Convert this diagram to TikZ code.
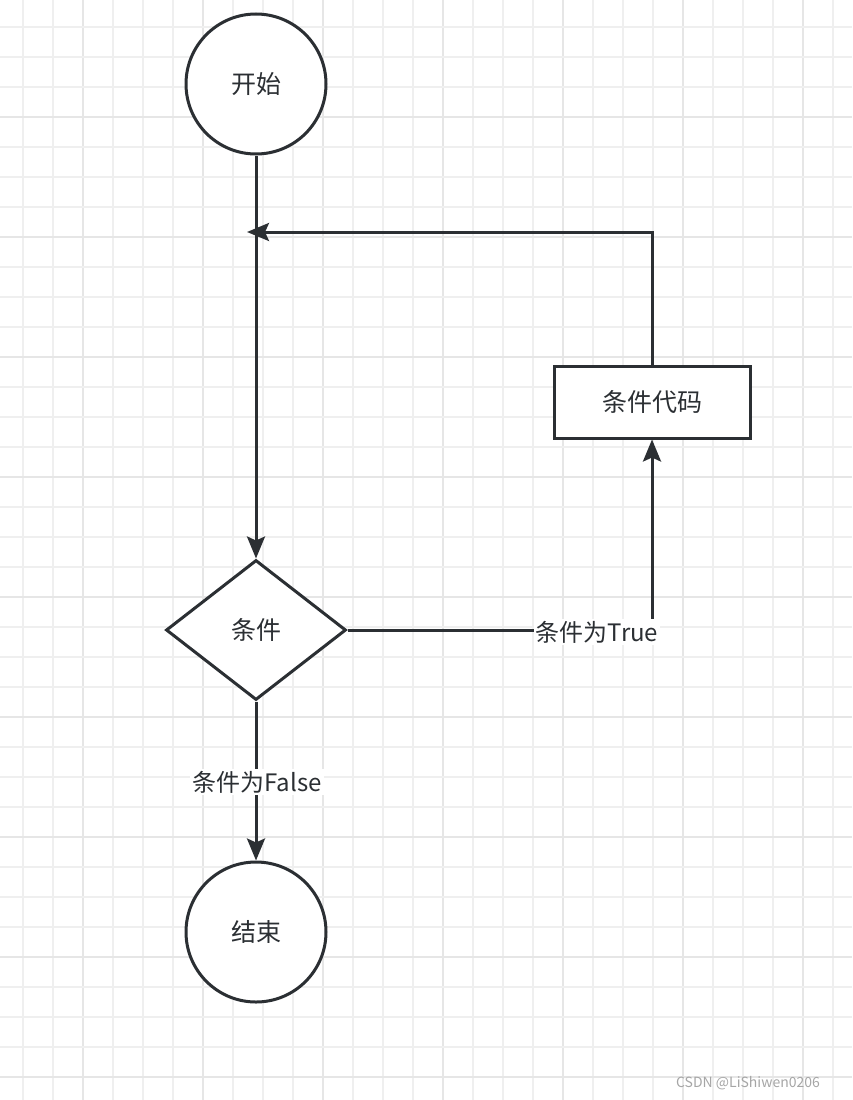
\documentclass[tikz,border=0pt]{standalone}
\usepackage{fontspec}
\setmainfont{Noto Sans CJK SC}
\usetikzlibrary{shapes.geometric,arrows.meta}
\definecolor{ink}{HTML}{2B2F33}
\definecolor{gridc}{HTML}{EFEFEF}
\definecolor{gridd}{HTML}{E6E6E6}
\tikzset{
  box/.style={draw=ink,line width=3pt,fill=white,font=\fontsize{25}{28}\selectfont,text=ink},
  flow/.style={draw=ink,line width=3pt,-{Stealth[length=22pt,width=18pt,inset=4pt]}},
  plain/.style={draw=ink,line width=3pt},
  lbl/.style={fill=white,inner sep=2pt,font=\fontsize{24}{27}\selectfont,text=ink}
}
\begin{document}
\begin{tikzpicture}[x=1pt,y=-1pt]
\fill[white] (0,0) rectangle (852,1100);
\useasboundingbox (0,0) rectangle (852,1100);
% grid
\foreach \i in {0,...,28} {
  \pgfmathtruncatemacro\m{mod(\i,4)}
  \ifnum\m=2 \draw[gridd,line width=2pt] (23+\i*30,0) -- (23+\i*30,1100);
  \else \draw[gridc,line width=1.5pt] (23+\i*30,0) -- (23+\i*30,1100); \fi
}
\foreach \j in {0,...,36} {
  \pgfmathtruncatemacro\m{mod(\j,4)}
  \ifnum\m=3 \draw[gridd,line width=2pt] (0,27+\j*30) -- (852,27+\j*30);
  \else \draw[gridc,line width=1.5pt] (0,27+\j*30) -- (852,27+\j*30); \fi
}
% nodes
\node[box,circle,minimum size=140pt,inner sep=0pt] (s) at (256,84) {开始};
\node[box,diamond,minimum width=180pt,minimum height=140pt,inner sep=0pt] (d) at (256,630) {条件};
\node[box,rectangle,minimum width=196pt,minimum height=72pt] (r) at (652,402) {条件代码};
\node[box,circle,minimum size=140pt,inner sep=0pt] (e) at (256,932) {结束};
\coordinate (j) at (247,232);
\coordinate (c) at (652,232);
\coordinate (k) at (652,630);
% connectors
\draw[flow] (s) -- (d);
\draw[flow] (r.north) -- (c) -- (j);
\draw[flow] (d.east) -- (k) -- (r.south);
\draw[flow] (d.south) -- (e.north);
\node[lbl] (t) at (597,632) {条件为True};
\node[lbl] (f) at (257,782) {条件为False};
\node[text=gray!70,font=\fontsize{14}{16}\selectfont] (w) at (748,1083) {CSDN @LiShiwen0206};
\end{tikzpicture}
\end{document}
